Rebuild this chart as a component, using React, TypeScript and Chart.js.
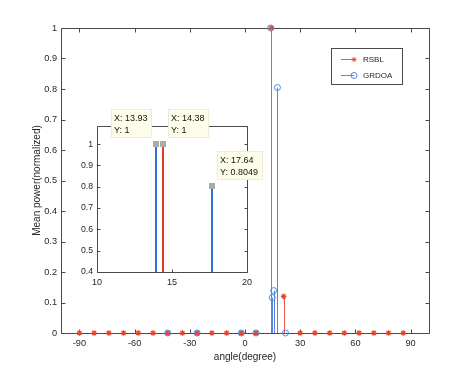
import React, { useEffect, useRef } from 'react';
import { Chart, registerables } from 'chart.js';

Chart.register(...registerables);

// ---------------- data ----------------
const SERIES_NAMES = ['RSBL', 'GRDOA'];
const RSBL_ANGLES = [-90, -82, -74, -66, -58, -50, -42, -34, -26, -18, -10, -2, 6, 14.38, 21, 30, 38, 46, 54, 62, 70, 78, 86];
const RSBL_POWER = [0, 0, 0, 0, 0, 0, 0, 0, 0, 0, 0, 0, 0, 1, 0.12, 0, 0, 0, 0, 0, 0, 0, 0];
const GRDOA_ANGLES = [-42, -26, -2, 6, 13.93, 14.8, 15.6, 17.64, 22];
const GRDOA_POWER = [0, 0, 0, 0, 1, 0.116, 0.139, 0.8049, 0];

const X_TICKS = [-90, -60, -30, 0, 30, 60, 90];
const Y_TICKS = [0, 0.1, 0.2, 0.3, 0.4, 0.5, 0.6, 0.7, 0.8, 0.9, 1];
const X_RANGE = [-100, 100];
const Y_RANGE = [0, 1];

const INSET_X_TICKS = [10, 15, 20];
const INSET_Y_TICKS = [0.4, 0.5, 0.6, 0.7, 0.8, 0.9, 1];
const INSET_X_RANGE = [10, 20];
const INSET_Y_RANGE = [0.4, 1.085];

// data tips: series index, x, y
const DATATIP_SERIES = [1, 0, 1];
const DATATIP_X = [13.93, 14.38, 17.64];
const DATATIP_Y = [1, 1, 0.8049];

// ---------------- styles ----------------
const FONT = '"Liberation Sans", Arial, Helvetica, sans-serif';
const AXIS_COLOR = '#4a4a4a';
const TEXT_COLOR = '#262626';
const RED = '#e8452f';
const BLUE = '#4f86e3';
const INSET_RED = '#e23b1f';
const INSET_BLUE = '#2f72d9';

const fmt = (v: number) => String(Math.round(v * 10000) / 10000);

const framePlugin = {
  id: 'frame',
  beforeDatasetsDraw(chart: any, _args: any, opts: any) {
    const { ctx, chartArea: a, scales } = chart;
    ctx.save();
    if (opts.fill) {
      ctx.fillStyle = opts.fill;
      ctx.fillRect(a.left, a.top, a.right - a.left, a.bottom - a.top);
    }
    const L = Math.round(a.left) + 0.5;
    const R = Math.round(a.right) + 0.5;
    const T = Math.round(a.top) + 0.5;
    const B = Math.round(a.bottom) + 0.5;
    const len = opts.tickLength;
    ctx.strokeStyle = opts.color;
    ctx.lineWidth = 1;
    ctx.beginPath();
    ctx.rect(L, T, R - L, B - T);
    scales.x.ticks.forEach((t: any) => {
      const x = Math.round(scales.x.getPixelForValue(t.value)) + 0.5;
      ctx.moveTo(x, B); ctx.lineTo(x, B - len);
      ctx.moveTo(x, T); ctx.lineTo(x, T + len);
    });
    scales.y.ticks.forEach((t: any) => {
      const y = Math.round(scales.y.getPixelForValue(t.value)) + 0.5;
      ctx.moveTo(L, y); ctx.lineTo(L + len, y);
      ctx.moveTo(R, y); ctx.lineTo(R - len, y);
    });
    ctx.stroke();
    ctx.restore();
  },
};

const stemPlugin = {
  id: 'stems',
  beforeDatasetDraw(chart: any, args: any, opts: any) {
    const { ctx, chartArea: a, scales } = chart;
    const ds = chart.data.datasets[args.index];
    const y0 = scales.y.getPixelForValue(0);
    ctx.save();
    if (opts.clip) {
      ctx.beginPath();
      ctx.rect(a.left, a.top, a.right - a.left, a.bottom - a.top);
      ctx.clip();
    }
    ctx.strokeStyle = ds.stemColor;
    ctx.lineWidth = ds.stemWidth;
    args.meta.data.forEach((pt: any) => {
      const x = ds.stemWidth % 2 === 1 ? Math.round(pt.x) + 0.5 : Math.round(pt.x);
      ctx.beginPath();
      ctx.moveTo(x, y0);
      ctx.lineTo(x, pt.y);
      ctx.stroke();
    });
    ctx.restore();
  },
};

function drawStar(ctx: any, x: number, y: number, r: number) {
  ctx.beginPath();
  ctx.moveTo(x - r, y); ctx.lineTo(x + r, y);
  ctx.moveTo(x, y - r); ctx.lineTo(x, y + r);
  const d = r * 0.72;
  ctx.moveTo(x - d, y - d); ctx.lineTo(x + d, y + d);
  ctx.moveTo(x - d, y + d); ctx.lineTo(x + d, y - d);
  ctx.stroke();
}

const boxLegendPlugin = {
  id: 'boxLegend',
  afterDatasetsDraw(chart: any, _args: any, o: any) {
    const ctx = chart.ctx;
    ctx.save();
    ctx.fillStyle = '#ffffff';
    ctx.fillRect(o.x, o.y, o.w, o.h);
    ctx.strokeStyle = AXIS_COLOR;
    ctx.lineWidth = 1;
    ctx.strokeRect(o.x + 0.5, o.y + 0.5, o.w, o.h);
    chart.data.datasets.forEach((ds: any, i: number) => {
      const y = Math.round(o.y + o.firstRow + i * o.rowGap) + 0.5;
      ctx.strokeStyle = ds.stemColor;
      ctx.lineWidth = 1;
      ctx.beginPath();
      ctx.moveTo(o.x + 10, y);
      ctx.lineTo(o.x + 23, y);
      ctx.stroke();
      const mx = o.x + 23;
      ctx.strokeStyle = ds.borderColor;
      if (ds.pointStyle === 'star') {
        drawStar(ctx, mx, y, 2.5);
      } else {
        ctx.beginPath();
        ctx.arc(mx, y, 3, 0, Math.PI * 2);
        ctx.stroke();
      }
      ctx.fillStyle = TEXT_COLOR;
      ctx.font = `8px ${FONT}`;
      ctx.textBaseline = 'middle';
      ctx.textAlign = 'left';
      ctx.fillText(ds.label, o.x + 32, y);
    });
    ctx.restore();
  },
};

const datatipPlugin = {
  id: 'datatips',
  afterDatasetsDraw(chart: any, _args: any, o: any) {
    const { ctx, scales } = chart;
    ctx.save();
    ctx.font = `9px ${FONT}`;
    DATATIP_X.forEach((xv, i) => {
      const px = scales.x.getPixelForValue(xv);
      const py = scales.y.getPixelForValue(DATATIP_Y[i]);
      const l1 = `X: ${fmt(xv)}`;
      const l2 = `Y: ${fmt(DATATIP_Y[i])}`;
      const w = Math.ceil(Math.max(ctx.measureText(l1).width, ctx.measureText(l2).width)) + 7;
      const h = 29;
      const side = o.sides[i];
      const bx = Math.round(side === 'left' ? px - 4 - w : px + 5);
      const by = Math.round(py - 6 - h);
      ctx.fillStyle = '#fdfde9';
      ctx.fillRect(bx, by, w, h);
      ctx.strokeStyle = '#ececd8';
      ctx.lineWidth = 1;
      ctx.strokeRect(bx + 0.5, by + 0.5, w - 1, h - 1);
      ctx.fillStyle = '#111111';
      ctx.textBaseline = 'middle';
      ctx.textAlign = 'left';
      ctx.fillText(l1, bx + 3, by + 10);
      ctx.fillText(l2, bx + 3, by + 22);
      // marker square
      ctx.fillStyle = '#a5ada5';
      ctx.fillRect(Math.round(px) - 3, Math.round(py) - 3, 6, 6);
      void DATATIP_SERIES[i];
    });
    ctx.restore();
  },
};

function seriesData(xs: number[], ys: number[]) {
  return xs.map((x, i) => ({ x, y: ys[i] }));
}

function axisTicks(values: number[]) {
  return (s: any) => {
    s.ticks = values.map((v) => ({ value: v }));
  };
}

export default function App() {
  const mainRef = useRef<HTMLCanvasElement | null>(null);
  const insetRef = useRef<HTMLCanvasElement | null>(null);

  useEffect(() => {
    document.body.style.margin = '0';
    const main = new Chart(mainRef.current as HTMLCanvasElement, {
      type: 'scatter',
      data: {
        datasets: [
          {
            label: SERIES_NAMES[0],
            data: seriesData(RSBL_ANGLES, RSBL_POWER),
            pointStyle: 'star',
            pointRadius: 2.8,
            borderColor: RED,
            backgroundColor: RED,
            borderWidth: 1.2,
            clip: false,
            order: 1,
            stemColor: '#ef5a44',
            stemWidth: 1,
          } as any,
          {
            label: SERIES_NAMES[1],
            data: seriesData(GRDOA_ANGLES, GRDOA_POWER),
            pointStyle: 'circle',
            pointRadius: 3,
            borderColor: BLUE,
            backgroundColor: 'rgba(0,0,0,0)',
            borderWidth: 1,
            clip: false,
            order: 0,
            stemColor: '#5a86e0',
            stemWidth: 1,
          } as any,
        ],
      },
      options: {
        responsive: false,
        animation: false,
        events: [],
        layout: { padding: { left: 0, top: 28, right: 45, bottom: 0 } },
        plugins: {
          legend: { display: false },
          tooltip: { enabled: false },
          frame: { color: AXIS_COLOR, tickLength: 4 },
          stems: { clip: false },
          boxLegend: { x: 331, y: 48, w: 71, h: 36, firstRow: 11, rowGap: 16 },
        } as any,
        scales: {
          x: {
            type: 'linear',
            min: X_RANGE[0],
            max: X_RANGE[1],
            afterBuildTicks: axisTicks(X_TICKS),
            afterFit: (s: any) => { s.height = 41; },
            grid: { display: false, drawTicks: false },
            border: { display: false },
            ticks: { font: { family: FONT, size: 9.2 }, color: TEXT_COLOR, padding: 5, maxRotation: 0, autoSkip: false, callback: (v: any) => fmt(Number(v)) },
            title: { display: true, text: 'angle(degree)', font: { family: FONT, size: 10 }, color: TEXT_COLOR, padding: { top: 0, bottom: 11 } },
          },
          y: {
            type: 'linear',
            min: Y_RANGE[0],
            max: Y_RANGE[1],
            afterBuildTicks: axisTicks(Y_TICKS),
            afterFit: (s: any) => { s.width = 61; },
            grid: { display: false, drawTicks: false },
            border: { display: false },
            ticks: { font: { family: FONT, size: 9.2 }, color: TEXT_COLOR, padding: 4, autoSkip: false, callback: (v: any) => fmt(Number(v)) },
            title: { display: true, text: 'Mean power(normalized)', font: { family: FONT, size: 10 }, color: TEXT_COLOR, padding: { top: 31, bottom: 0 } },
          },
        },
      },
      plugins: [framePlugin, stemPlugin, boxLegendPlugin],
    });

    const inset = new Chart(insetRef.current as HTMLCanvasElement, {
      type: 'scatter',
      data: {
        datasets: [
          {
            label: SERIES_NAMES[0],
            data: seriesData(RSBL_ANGLES, RSBL_POWER),
            pointRadius: 0,
            borderColor: INSET_RED,
            backgroundColor: INSET_RED,
            order: 1,
            stemColor: INSET_RED,
            stemWidth: 2,
          } as any,
          {
            label: SERIES_NAMES[1],
            data: seriesData(GRDOA_ANGLES, GRDOA_POWER),
            pointRadius: 0,
            borderColor: INSET_BLUE,
            backgroundColor: INSET_BLUE,
            order: 0,
            stemColor: INSET_BLUE,
            stemWidth: 2,
          } as any,
        ],
      },
      options: {
        responsive: false,
        animation: false,
        events: [],
        layout: { padding: { left: 0, top: 26, right: 23, bottom: 0 } },
        plugins: {
          legend: { display: false },
          tooltip: { enabled: false },
          frame: { color: AXIS_COLOR, tickLength: 3, fill: '#ffffff' },
          stems: { clip: true },
          datatips: { sides: ['left', 'right', 'right'] },
        } as any,
        scales: {
          x: {
            type: 'linear',
            min: INSET_X_RANGE[0],
            max: INSET_X_RANGE[1],
            afterBuildTicks: axisTicks(INSET_X_TICKS),
            afterFit: (s: any) => { s.height = 28; },
            grid: { display: false, drawTicks: false },
            border: { display: false },
            ticks: { font: { family: FONT, size: 9 }, color: TEXT_COLOR, padding: 5, maxRotation: 0, autoSkip: false, callback: (v: any) => fmt(Number(v)) },
          },
          y: {
            type: 'linear',
            min: INSET_Y_RANGE[0],
            max: INSET_Y_RANGE[1],
            afterBuildTicks: axisTicks(INSET_Y_TICKS),
            afterFit: (s: any) => { s.width = 37; },
            grid: { display: false, drawTicks: false },
            border: { display: false },
            ticks: { font: { family: FONT, size: 8.7 }, color: TEXT_COLOR, padding: 4, autoSkip: false, callback: (v: any) => fmt(Number(v)) },
          },
        },
      },
      plugins: [framePlugin, stemPlugin, datatipPlugin],
    });

    return () => {
      main.destroy();
      inset.destroy();
    };
  }, []);

  return (
    <div style={{ position: 'relative', width: 474, height: 374, background: '#ffffff' }}>
      <canvas ref={mainRef} width={474} height={374} style={{ position: 'absolute', left: 0, top: 0 }} />
      <canvas ref={insetRef} width={210} height={200} style={{ position: 'absolute', left: 60, top: 100 }} />
    </div>
  );
}
